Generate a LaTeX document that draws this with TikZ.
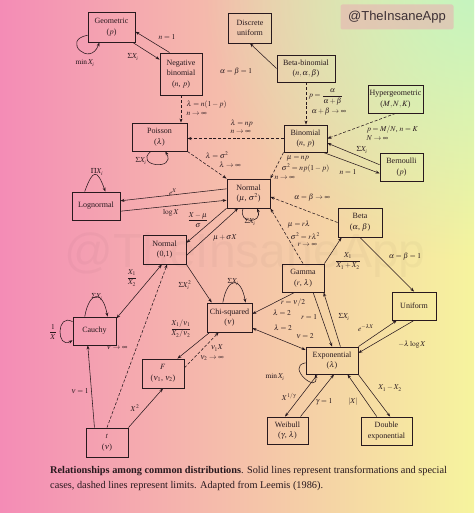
\documentclass[tikz,border=0pt]{standalone}
\usepackage{amsmath}
\usepackage{mathptmx}
\usepackage{fontspec}
\setmainfont{Liberation Serif}
\newfontfamily\badgefont{Liberation Sans}
\usepackage{xcolor}
\usetikzlibrary{arrows.meta,fadings}

\definecolor{bgpink}{RGB}{244,140,182}
\definecolor{bgpeach}{RGB}{250,200,172}
\definecolor{bgyellow}{RGB}{246,244,158}
\definecolor{bgmint}{RGB}{196,244,192}
\definecolor{ink}{RGB}{40,25,30}
\definecolor{badge}{RGB}{232,178,178}

\tikzfading[name=fade out, inner color=transparent!0, outer color=transparent!100]

\begin{document}
\begin{tikzpicture}[x=1pt, y=1pt, >={Stealth[length=4pt,width=3pt]},
  box/.style={draw=ink, line width=0.9pt, align=center, inner sep=1pt, minimum width=43pt,
    minimum height=28pt, font=\fontsize{8}{10.5}\selectfont, text=ink},
  arr/.style={->, line width=0.55pt, draw=ink},
  lim/.style={arr, dash pattern=on 3pt off 1.8pt},
  lab/.style={font=\fontsize{7.5}{8.5}\selectfont, text=ink, inner sep=0.5pt}]
  % Background
  \useasboundingbox (0,0) rectangle (474,-513);
  \shade[left color=bgpink, middle color=bgpeach, right color=bgyellow] (0,0) rectangle (474,-513);
  \begin{scope}
    \clip (0,0) rectangle (474,-513);
    \fill[bgmint, path fading=fade out] (474,10) circle (270);
  \end{scope}
  \node[font=\badgefont\fontsize{48}{50}\selectfont, text=ink, opacity=0.03] (wm) at (245,-255) {@TheInsaneApp};
  \node[fill=badge, fill opacity=0.6, text opacity=1, rounded corners=2pt, minimum width=113pt,
    minimum height=25pt, font=\badgefont\fontsize{13}{15}\selectfont, text=ink!90] (tag) at (397,-17) {@TheInsaneApp};

  % Distributions
  \node[box, minimum width=47pt, minimum height=30pt] (geo) at (111.5,-27) {Geometric\\($p$)};
  \node[box, minimum width=42pt, minimum height=42pt] (negbin) at (181,-74) {Negative\\binomial\\($n$, $p$)};
  \node[box, minimum height=30pt] (disc) at (250,-28) {Discrete\\uniform};
  \node[box, minimum width=58pt, minimum height=27pt] (betabin) at (306,-68.5) {Beta-binomial\\($n, \alpha, \beta$)};
  \node[box, minimum width=55pt] (hyper) at (395.5,-99) {Hypergeometric\\($M, N, K$)};
  \node[box, minimum height=27pt] (binom) at (305.5,-138.5) {Binomial\\($n$, $p$)};
  \node[box, minimum width=55pt] (pois) at (159.5,-137) {Poisson\\($\lambda$)};
  \node[box] (bern) at (401.5,-167) {Bernoulli\\($p$)};
  \node[box, minimum width=48pt] (logn) at (96,-206) {Lognormal};
  \node[box, minimum height=29pt] (norm) at (248.5,-193.5) {Normal\\($\mu$, $\sigma^2$)};
  \node[box, minimum height=29pt] (std) at (164.5,-249.5) {Normal\\(0,1)};
  \node[box, minimum width=44pt, minimum height=29pt] (beta) at (360,-222.5) {Beta\\($\alpha$, $\beta$)};
  \node[box, minimum width=42pt] (gam) at (303,-278) {Gamma\\($r$, $\lambda$)};
  \node[box, minimum width=44pt] (unif) at (414,-306) {Uniform};
  \node[box, minimum width=45pt, minimum height=29pt] (chi) at (229.5,-317.5) {Chi-squared\\($\nu$)};
  \node[box] (cauchy) at (94.5,-331) {Cauchy};
  \node[box, minimum width=42pt, minimum height=29pt] (fdist) at (163,-373.5) {$F$\\($\nu_1$, $\nu_2$)};
  \node[box, minimum width=42pt, minimum height=29pt] (tdist) at (107,-442.5) {$t$\\($\nu$)};
  \node[box, minimum width=52pt, minimum height=27pt] (expo) at (332,-360.5) {Exponential\\($\lambda$)};
  \node[box, minimum width=41pt, minimum height=27pt] (weib) at (287.5,-430.5) {Weibull\\($\gamma$, $\lambda$)};
  \node[box, minimum width=51pt] (dexp) at (386.5,-431) {Double\\exponential};

  % Discrete part
  \draw[arr] (negbin.118) -- (geo.-11);
  \draw[arr] (geo.-36) -- (negbin.146);
  \draw[arr] (geo.199) to[out=190,in=-110,looseness=5] (geo.232);
  \draw[lim] (negbin.south) -- (negbin.south |- pois.north);
  \draw[arr] (pois.239) to[out=-140,in=-60,looseness=4] (pois.292);
  \draw[lim] (binom.west) -- (binom.west -| pois.east);
  \draw[lim] (pois.south east) -- (norm.north west);
  \draw[arr] (betabin.west) -- (disc.south);
  \draw[lim] (betabin.south) -- (betabin.south |- binom.north);
  \draw[lim] (hyper.south) -- (binom.east);
  \draw[arr] (bern.174) -- (binom.-12);
  \draw[arr] (binom.-38) -- (bern.196);
  \draw[lim] (binom.south west) -- (norm.north east);

  \node[lab] (l1) at (167,-37) {$n=1$};
  \node[lab] (l2) at (133,-57) {$\Sigma X_i$};
  \node[lab] (l3) at (85,-63) {$\min X_i$};
  \node[lab, anchor=west] (l4) at (186,-105) {$\lambda=n(1-p)$};
  \node[lab, anchor=west] (l5) at (186,-114) {$n\to\infty$};
  \node[lab] (l6) at (141,-161) {$\Sigma X_i$};
  \node[lab, anchor=west] (l7) at (230,-123) {$\lambda=np$};
  \node[lab, anchor=west] (l8) at (230,-132) {$n\to\infty$};
  \node[lab] (l9) at (217,-155) {$\lambda=\sigma^2$};
  \node[lab] (l10) at (230,-165) {$\lambda\to\infty$};
  \node[lab] (l11) at (236,-72) {$\alpha=\beta=1$};
  \node[lab, anchor=west] (l12) at (308,-97) {$p=\dfrac{\alpha}{\alpha+\beta}$};
  \node[lab, anchor=west] (l13) at (311,-112) {$\alpha+\beta\to\infty$};
  \node[lab, anchor=west] (l14) at (366,-130) {$p=M/N$, $n=K$};
  \node[lab, anchor=west] (l15) at (366,-138) {$N\to\infty$};
  \node[lab] (l16) at (362,-150) {$\Sigma X_i$};
  \node[lab] (l17) at (348,-172) {$n=1$};
  \node[lab, anchor=west] (l18) at (286,-158) {$\mu=np$};
  \node[lab, anchor=west] (l19) at (281,-168) {$\sigma^2=np(1-p)$};
  \node[lab, anchor=west] (l20) at (274,-178) {$n\to\infty$};

  % Continuous part
  \draw[arr] (norm.168) -- (logn.12);
  \draw[arr] (logn.-12) -- (norm.197);
  \draw[arr] (logn.128) to[out=70,in=110,looseness=3] (logn.57);
  \draw[arr] (norm.250) to[out=-110,in=-70,looseness=3] (norm.300);
  \draw[arr] (norm.214) -- (std.17);
  \draw[arr] (std.-15) -- (norm.235);
  \draw[lim] (beta.west) -- (norm.-9);
  \draw[lim] (gam.north) -- (norm.south east);
  \draw[arr] (gam.north east) -- (beta.219);
  \draw[arr] (beta.south) -- (unif.north);
  \draw[arr] (expo.north east) -- (unif.220);
  \draw[arr] (unif.south) -- (expo.16);
  \draw[arr] (gam.-55) -- (expo.north);
  \draw[arr] (expo.59) -- (gam.-35);
  \draw[arr] (gam.240) -- (chi.9);
  \draw[arr, <->] (chi.-25) -- (expo.158);
  \draw[arr] (chi.114) to[out=80,in=100,looseness=3] (chi.43);
  \draw[arr] (std.south east) -- (chi.140);
  \draw[arr] (chi.217) -- (fdist.46);
  \draw[lim] (fdist.15) -- (chi.234);
  \draw[arr, <->] (std.-100) -- (cauchy.30);
  \draw[arr] (cauchy.124) to[out=80,in=100,looseness=3] (cauchy.48);
  \draw[arr] (cauchy.157) to[out=150,in=210,looseness=2.6] (cauchy.203);
  \draw[arr] (tdist.130) -- (cauchy.245);
  \draw[lim] (tdist.north) -- (std.-80);
  \draw[arr] (tdist.north east) -- (fdist.south);
  \draw[arr] (expo.185) to[out=190,in=-80,looseness=3.5] (expo.220);
  \draw[arr] (expo.224) -- (weib.100);
  \draw[arr] (weib.47) -- (expo.278);
  \draw[arr] (dexp.124) -- (expo.-42);
  \draw[arr] (expo.-28) -- (dexp.76);

  \node[lab] (l21) at (173,-192) {$e^X$};
  \node[lab] (l22) at (171,-213) {$\log X$};
  \node[lab] (l23) at (97,-172) {$\Pi X_i$};
  \node[lab] (l24) at (250,-222) {$\Sigma X_i$};
  \node[lab] (l25) at (198,-220) {$\dfrac{X-\mu}{\sigma}$};
  \node[lab] (l26) at (225,-238) {$\mu+\sigma X$};
  \node[lab] (l27) at (312,-198) {$\alpha=\beta\to\infty$};
  \node[lab, anchor=west] (l28) at (287,-225) {$\mu=r\lambda$};
  \node[lab, anchor=west] (l29) at (290,-236) {$\sigma^2=r\lambda^2$};
  \node[lab, anchor=west] (l30) at (297,-245) {$r\to\infty$};
  \node[lab] (l31) at (348,-261) {$\dfrac{X_1}{X_1+X_2}$};
  \node[lab] (l32) at (405,-257) {$\alpha=\beta=1$};
  \node[lab] (l33) at (366,-328) {$e^{-\lambda X}$};
  \node[lab] (l34) at (412,-345) {$-\lambda\log X$};
  \node[lab] (l35) at (293,-303) {$r=\nu/2$};
  \node[lab] (l36) at (282,-313) {$\lambda=2$};
  \node[lab] (l37) at (309,-317) {$r=1$};
  \node[lab] (l38) at (344,-317) {$\Sigma X_i$};
  \node[lab] (l39) at (283,-328) {$\lambda=2$};
  \node[lab] (l40) at (305,-336) {$\nu=2$};
  \node[lab] (l41) at (233,-282) {$\Sigma X_i$};
  \node[lab] (l42) at (185,-285) {$\Sigma X_i^2$};
  \node[lab] (l43) at (181,-329) {$\dfrac{X_1/\nu_1}{X_2/\nu_2}$};
  \node[lab] (l44) at (217,-348) {$\nu_1 X$};
  \node[lab] (l45) at (212,-358) {$\nu_2\to\infty$};
  \node[lab] (l46) at (132,-278) {$\dfrac{X_1}{X_2}$};
  \node[lab] (l47) at (97,-297) {$\Sigma X_i$};
  \node[lab] (l48) at (53,-332) {$\dfrac{1}{X}$};
  \node[lab] (l49) at (80,-391) {$\nu=1$};
  \node[lab] (l50) at (117,-348) {$\nu\to\infty$};
  \node[lab] (l51) at (135,-408) {$X^2$};
  \node[lab] (l52) at (275,-377) {$\min X_i$};
  \node[lab] (l53) at (289,-397) {$X^{1/\gamma}$};
  \node[lab] (l54) at (324,-402) {$\gamma=1$};
  \node[lab] (l55) at (353,-402) {$|X|$};
  \node[lab] (l56) at (390,-388) {$X_1-X_2$};

  % Caption
  \node[anchor=north west, align=left, inner sep=0pt, text=ink, font=\fontsize{10.3}{15}\selectfont] (cap) at (50,-466)
    {\textbf{Relationships among common distributions}. Solid lines represent transformations and special\\
     cases, dashed lines represent limits. Adapted from Leemis (1986).};
\end{tikzpicture}
\end{document}
